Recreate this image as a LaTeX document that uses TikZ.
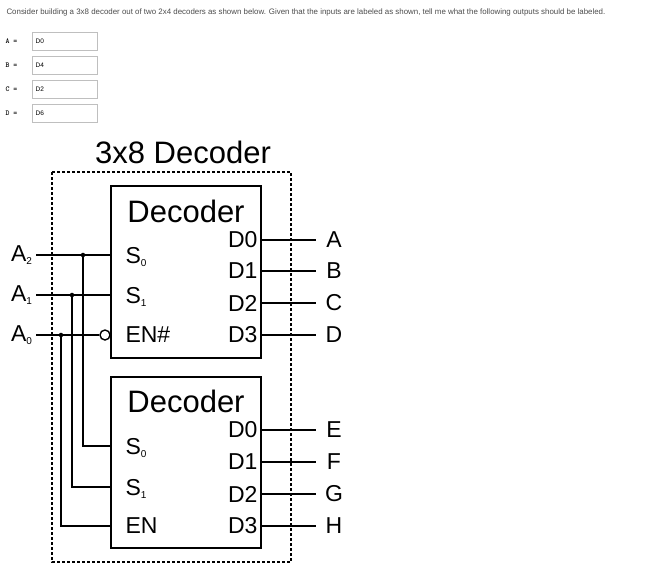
\documentclass[tikz,border=0pt]{standalone}
\usepackage{fontspec}
\setmainfont{Liberation Sans}
\begin{document}
\begin{tikzpicture}[%
		x=1pt,y=-1pt,
		wire/.style={line width=1.4pt},
		pin/.style={font=\fontsize{23}{23}\selectfont},
		big/.style={font=\fontsize{31}{31}\selectfont},
		field/.style={draw=black!25,minimum width=65pt,minimum height=18pt,inner sep=2pt,
			anchor=west,font=\fontsize{6.5}{6.5}\selectfont,text width=58pt,align=left},
		dot/.style={circle,fill,inner sep=1.6pt}
		]
		\useasboundingbox (0,0) rectangle (650,571);
		\node[anchor=west,font=\fontsize{7.9}{8}\selectfont,text=black!70] (q) at (3,12)
			{Consider building a 3x8 decoder out of two 2x4 decoders as shown below. Given that the inputs are labeled as shown, tell me what the following outputs should be labeled.};
		\foreach \l/\v/\y in {A/D0/41,B/D4/65,C/D2/89,D/D6/113}{
			\node[anchor=west,font=\ttfamily\bfseries\fontsize{7.5}{7.5}\selectfont] (lab\l) at (2,\y) {\l{} =};
			\node[field] (box\l) at (32,\y) {\v};
		}
		\node[big] (title) at (183,152) {3x8 Decoder};
		\draw[wire,dash pattern=on 3pt off 2pt] (52,172) rectangle (291,562);
		% decoders
		\draw[wire] (111,186) rectangle (261,358);
		\draw[wire] (111,377) rectangle (261,548);
		\node[big] (dec1) at (186,211) {Decoder};
		\node[big] (dec2) at (186,401) {Decoder};
		% top inputs
		\foreach \n/\y/\x in {2/255/83,1/295/72,0/335/61}{
			\node[pin,anchor=east] (A\n) at (36,\y) {A\textsubscript{\fontsize{10}{10}\selectfont\n}};
			\node[dot] (j\n) at (\x,\y) {};
		}
		\node[pin,anchor=west] (s0a) at (122,257) {S\textsubscript{\fontsize{10}{10}\selectfont 0}};
		\node[pin,anchor=west] (s1a) at (122,297) {S\textsubscript{\fontsize{10}{10}\selectfont 1}};
		\node[pin,anchor=west] (ena) at (122,335) {EN\#};
		\node[pin,anchor=west] (s0b) at (122,448) {S\textsubscript{\fontsize{10}{10}\selectfont 0}};
		\node[pin,anchor=west] (s1b) at (122,489) {S\textsubscript{\fontsize{10}{10}\selectfont 1}};
		\node[pin,anchor=west] (enb) at (122,526) {EN};
		\node[circle,draw,line width=1.4pt,inner sep=0pt,minimum size=10pt] (bub) at (105,335) {};
		\draw[wire] (A2) -- (111,255);
		\draw[wire] (A1) -- (111,295);
		\draw[wire] (A0) -- (bub);
		\draw[wire] (j2) |- (111,446);
		\draw[wire] (j1) |- (111,487);
		\draw[wire] (j0) |- (111,526);
		% outputs
		\foreach \d/\y/\o/\z in {0/240/A/430,1/271/B/462,2/303/C/494,3/335/D/526}{
			\node[pin,anchor=east] (ta\d) at (261,\y) {D\d};
			\node[pin,anchor=east] (tb\d) at (261,\z) {D\d};
			\draw[wire] (261,\y) -- (316,\y);
			\draw[wire] (261,\z) -- (316,\z);
			\node[pin] (o\o) at (334,\y) {\o};
		}
		\foreach \o/\z in {E/430,F/462,G/494,H/526}
			\node[pin] (o\o) at (334,\z) {\o};
\end{tikzpicture}
\end{document}
